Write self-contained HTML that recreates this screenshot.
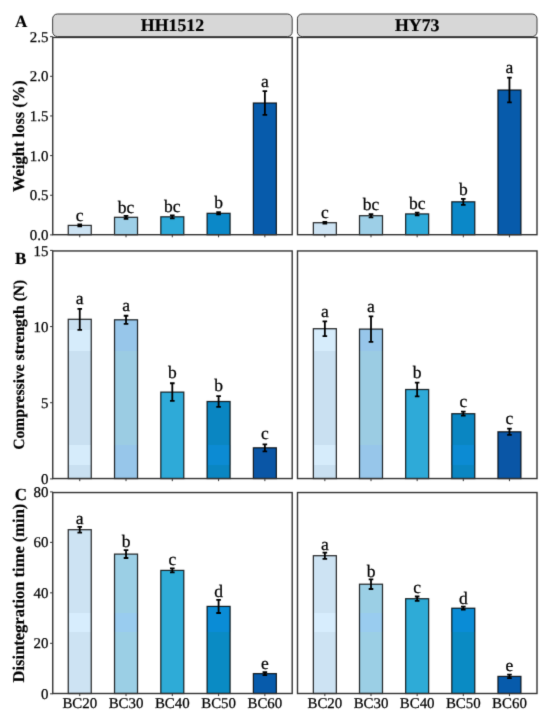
<!DOCTYPE html>
<html><head><meta charset="utf-8"><style>
html,body{margin:0;padding:0;background:#fff;}
body{width:550px;height:718px;overflow:hidden;}
svg{display:block;font-family:"Liberation Serif", serif;text-rendering:geometricPrecision;}
#w{width:550px;height:718px;}
</style></head><body>
<div id="w"><svg width="550" height="718" viewBox="0 0 550 718">
<defs><filter id="bl" x="0" y="0" width="550" height="718" filterUnits="userSpaceOnUse" color-interpolation-filters="sRGB"><feConvolveMatrix order="3" kernelMatrix="0.01134 0.08382 0.01134 0.08382 0.61935 0.08382 0.01134 0.08382 0.01134" edgeMode="duplicate" preserveAlpha="true"/></filter></defs>
<g filter="url(#bl)">
<rect width="550" height="718" fill="#fff"/>
<rect x="68.25" y="225.40" width="23.00" height="9.30" fill="#cde3f3"/>
<rect x="68.25" y="225.40" width="23.00" height="9.30" fill="none" stroke="#000" stroke-opacity="0.82" stroke-width="1.25"/>
<rect x="114.53" y="217.30" width="23.00" height="17.40" fill="#9dcfe7"/>
<rect x="114.53" y="217.30" width="23.00" height="17.40" fill="none" stroke="#000" stroke-opacity="0.82" stroke-width="1.25"/>
<rect x="160.81" y="216.80" width="23.00" height="17.90" fill="#2eaad9"/>
<rect x="160.81" y="216.80" width="23.00" height="17.90" fill="none" stroke="#000" stroke-opacity="0.82" stroke-width="1.25"/>
<rect x="207.09" y="213.30" width="23.00" height="21.40" fill="#0b88c8"/>
<rect x="207.09" y="213.30" width="23.00" height="21.40" fill="none" stroke="#000" stroke-opacity="0.82" stroke-width="1.25"/>
<rect x="253.37" y="103.00" width="23.00" height="131.70" fill="#075bab"/>
<rect x="253.37" y="103.00" width="23.00" height="131.70" fill="none" stroke="#000" stroke-opacity="0.82" stroke-width="1.25"/>
<path d="M79.75 224.50V226.30M77.45 224.50H82.05M77.45 226.30H82.05" stroke="#000" stroke-width="1.8" fill="none"/>
<text transform="translate(79.75 220.70)" font-size="17.5" text-anchor="middle" fill="#000" stroke="#000" stroke-width="0.25">c</text>
<path d="M126.03 215.85V218.75M123.73 215.85H128.33M123.73 218.75H128.33" stroke="#000" stroke-width="1.8" fill="none"/>
<text transform="translate(126.03 212.50)" font-size="17.5" text-anchor="middle" fill="#000" stroke="#000" stroke-width="0.25">bc</text>
<path d="M172.31 215.30V218.30M170.01 215.30H174.61M170.01 218.30H174.61" stroke="#000" stroke-width="1.8" fill="none"/>
<text transform="translate(172.31 211.60)" font-size="17.5" text-anchor="middle" fill="#000" stroke="#000" stroke-width="0.25">bc</text>
<path d="M218.59 212.25V214.35M216.29 212.25H220.89M216.29 214.35H220.89" stroke="#000" stroke-width="1.8" fill="none"/>
<text transform="translate(218.59 208.40)" font-size="17.5" text-anchor="middle" fill="#000" stroke="#000" stroke-width="0.25">b</text>
<path d="M264.87 91.05V114.95M262.57 91.05H267.17M262.57 114.95H267.17" stroke="#000" stroke-width="1.8" fill="none"/>
<text transform="translate(264.87 87.00)" font-size="17.5" text-anchor="middle" fill="#000" stroke="#000" stroke-width="0.25">a</text>
<rect x="52.75" y="37.45" width="239.45" height="197.25" fill="none" stroke="#333" stroke-width="1.4"/>
<line x1="79.75" y1="234.7" x2="79.75" y2="237.29999999999998" stroke="#333" stroke-width="1.0"/>
<line x1="126.03" y1="234.7" x2="126.03" y2="237.29999999999998" stroke="#333" stroke-width="1.0"/>
<line x1="172.31" y1="234.7" x2="172.31" y2="237.29999999999998" stroke="#333" stroke-width="1.0"/>
<line x1="218.59" y1="234.7" x2="218.59" y2="237.29999999999998" stroke="#333" stroke-width="1.0"/>
<line x1="264.87" y1="234.7" x2="264.87" y2="237.29999999999998" stroke="#333" stroke-width="1.0"/>
<rect x="313.35" y="222.70" width="23.00" height="12.00" fill="#cde3f3"/>
<rect x="313.35" y="222.70" width="23.00" height="12.00" fill="none" stroke="#000" stroke-opacity="0.82" stroke-width="1.25"/>
<rect x="359.50" y="215.70" width="23.00" height="19.00" fill="#9dcfe7"/>
<rect x="359.50" y="215.70" width="23.00" height="19.00" fill="none" stroke="#000" stroke-opacity="0.82" stroke-width="1.25"/>
<rect x="405.65" y="213.90" width="23.00" height="20.80" fill="#2eaad9"/>
<rect x="405.65" y="213.90" width="23.00" height="20.80" fill="none" stroke="#000" stroke-opacity="0.82" stroke-width="1.25"/>
<rect x="451.80" y="201.80" width="23.00" height="32.90" fill="#0b88c8"/>
<rect x="451.80" y="201.80" width="23.00" height="32.90" fill="none" stroke="#000" stroke-opacity="0.82" stroke-width="1.25"/>
<rect x="497.95" y="90.00" width="23.00" height="144.70" fill="#075bab"/>
<rect x="497.95" y="90.00" width="23.00" height="144.70" fill="none" stroke="#000" stroke-opacity="0.82" stroke-width="1.25"/>
<path d="M324.85 221.80V223.60M322.55 221.80H327.15M322.55 223.60H327.15" stroke="#000" stroke-width="1.8" fill="none"/>
<text transform="translate(324.85 218.10)" font-size="17.5" text-anchor="middle" fill="#000" stroke="#000" stroke-width="0.25">c</text>
<path d="M371.00 214.10V217.30M368.70 214.10H373.30M368.70 217.30H373.30" stroke="#000" stroke-width="1.8" fill="none"/>
<text transform="translate(371.00 210.20)" font-size="17.5" text-anchor="middle" fill="#000" stroke="#000" stroke-width="0.25">bc</text>
<path d="M417.15 212.55V215.25M414.85 212.55H419.45M414.85 215.25H419.45" stroke="#000" stroke-width="1.8" fill="none"/>
<text transform="translate(417.15 208.90)" font-size="17.5" text-anchor="middle" fill="#000" stroke="#000" stroke-width="0.25">bc</text>
<path d="M463.30 198.80V204.80M461.00 198.80H465.60M461.00 204.80H465.60" stroke="#000" stroke-width="1.8" fill="none"/>
<text transform="translate(463.30 195.30)" font-size="17.5" text-anchor="middle" fill="#000" stroke="#000" stroke-width="0.25">b</text>
<path d="M509.45 77.60V102.40M507.15 77.60H511.75M507.15 102.40H511.75" stroke="#000" stroke-width="1.8" fill="none"/>
<text transform="translate(509.45 73.30)" font-size="17.5" text-anchor="middle" fill="#000" stroke="#000" stroke-width="0.25">a</text>
<rect x="297.5" y="37.45" width="239.50" height="197.25" fill="none" stroke="#333" stroke-width="1.4"/>
<line x1="324.85" y1="234.7" x2="324.85" y2="237.29999999999998" stroke="#333" stroke-width="1.0"/>
<line x1="371.00" y1="234.7" x2="371.00" y2="237.29999999999998" stroke="#333" stroke-width="1.0"/>
<line x1="417.15" y1="234.7" x2="417.15" y2="237.29999999999998" stroke="#333" stroke-width="1.0"/>
<line x1="463.30" y1="234.7" x2="463.30" y2="237.29999999999998" stroke="#333" stroke-width="1.0"/>
<line x1="509.45" y1="234.7" x2="509.45" y2="237.29999999999998" stroke="#333" stroke-width="1.0"/>
<line x1="50.05" y1="234.90" x2="52.75" y2="234.90" stroke="#333" stroke-width="1.0"/>
<text transform="translate(48.35 240.00)" font-size="14.9" text-anchor="end" fill="#000" stroke="#000" stroke-width="0.25">0.0</text>
<line x1="50.05" y1="195.25" x2="52.75" y2="195.25" stroke="#333" stroke-width="1.0"/>
<text transform="translate(48.35 200.35)" font-size="14.9" text-anchor="end" fill="#000" stroke="#000" stroke-width="0.25">0.5</text>
<line x1="50.05" y1="155.60" x2="52.75" y2="155.60" stroke="#333" stroke-width="1.0"/>
<text transform="translate(48.35 160.70)" font-size="14.9" text-anchor="end" fill="#000" stroke="#000" stroke-width="0.25">1.0</text>
<line x1="50.05" y1="115.95" x2="52.75" y2="115.95" stroke="#333" stroke-width="1.0"/>
<text transform="translate(48.35 121.05)" font-size="14.9" text-anchor="end" fill="#000" stroke="#000" stroke-width="0.25">1.5</text>
<line x1="50.05" y1="76.30" x2="52.75" y2="76.30" stroke="#333" stroke-width="1.0"/>
<text transform="translate(48.35 81.40)" font-size="14.9" text-anchor="end" fill="#000" stroke="#000" stroke-width="0.25">2.0</text>
<line x1="50.05" y1="36.65" x2="52.75" y2="36.65" stroke="#333" stroke-width="1.0"/>
<text transform="translate(48.35 41.75)" font-size="14.9" text-anchor="end" fill="#000" stroke="#000" stroke-width="0.25">2.5</text>
<text transform="translate(23.60 136.07) rotate(-90)" font-size="16.5" font-weight="bold" text-anchor="middle" fill="#000" stroke="#000" stroke-width="0.2">Weight loss (%)</text>
<rect x="68.25" y="319.30" width="23.00" height="159.25" fill="#c9e0f1"/>
<rect x="68.25" y="330.00" width="23.00" height="21.00" fill="#d6ecfb"/>
<rect x="68.25" y="445.00" width="23.00" height="20.00" fill="#d6ecfb"/>
<rect x="68.25" y="319.30" width="23.00" height="159.25" fill="none" stroke="#000" stroke-opacity="0.82" stroke-width="1.25"/>
<rect x="114.53" y="319.80" width="23.00" height="158.75" fill="#9bcce3"/>
<rect x="114.53" y="319.80" width="23.00" height="31.20" fill="#97c6ea"/>
<rect x="114.53" y="445.00" width="23.00" height="33.55" fill="#97c6ea"/>
<rect x="114.53" y="319.80" width="23.00" height="158.75" fill="none" stroke="#000" stroke-opacity="0.82" stroke-width="1.25"/>
<rect x="160.81" y="392.10" width="23.00" height="86.45" fill="#2eaad8"/>
<rect x="160.81" y="392.10" width="23.00" height="86.45" fill="none" stroke="#000" stroke-opacity="0.82" stroke-width="1.25"/>
<rect x="207.09" y="401.50" width="23.00" height="77.05" fill="#0a86c2"/>
<rect x="207.09" y="445.00" width="23.00" height="20.00" fill="#0c8bd3"/>
<rect x="207.09" y="401.50" width="23.00" height="77.05" fill="none" stroke="#000" stroke-opacity="0.82" stroke-width="1.25"/>
<rect x="253.37" y="447.80" width="23.00" height="30.75" fill="#0a56a6"/>
<rect x="253.37" y="447.80" width="23.00" height="30.75" fill="none" stroke="#000" stroke-opacity="0.82" stroke-width="1.25"/>
<path d="M79.75 308.80V329.80M77.45 308.80H82.05M77.45 329.80H82.05" stroke="#000" stroke-width="1.8" fill="none"/>
<text transform="translate(79.75 303.60)" font-size="17.5" text-anchor="middle" fill="#000" stroke="#000" stroke-width="0.25">a</text>
<path d="M126.03 315.75V323.85M123.73 315.75H128.33M123.73 323.85H128.33" stroke="#000" stroke-width="1.8" fill="none"/>
<text transform="translate(126.03 310.80)" font-size="17.5" text-anchor="middle" fill="#000" stroke="#000" stroke-width="0.25">a</text>
<path d="M172.31 383.25V400.95M170.01 383.25H174.61M170.01 400.95H174.61" stroke="#000" stroke-width="1.8" fill="none"/>
<text transform="translate(172.31 378.20)" font-size="17.5" text-anchor="middle" fill="#000" stroke="#000" stroke-width="0.25">b</text>
<path d="M218.59 396.05V406.95M216.29 396.05H220.89M216.29 406.95H220.89" stroke="#000" stroke-width="1.8" fill="none"/>
<text transform="translate(218.59 391.40)" font-size="17.5" text-anchor="middle" fill="#000" stroke="#000" stroke-width="0.25">b</text>
<path d="M264.87 444.30V451.30M262.57 444.30H267.17M262.57 451.30H267.17" stroke="#000" stroke-width="1.8" fill="none"/>
<text transform="translate(264.87 439.30)" font-size="17.5" text-anchor="middle" fill="#000" stroke="#000" stroke-width="0.25">c</text>
<rect x="52.75" y="250.95" width="239.45" height="227.60" fill="none" stroke="#333" stroke-width="1.4"/>
<line x1="79.75" y1="478.55" x2="79.75" y2="481.15000000000003" stroke="#333" stroke-width="1.0"/>
<line x1="126.03" y1="478.55" x2="126.03" y2="481.15000000000003" stroke="#333" stroke-width="1.0"/>
<line x1="172.31" y1="478.55" x2="172.31" y2="481.15000000000003" stroke="#333" stroke-width="1.0"/>
<line x1="218.59" y1="478.55" x2="218.59" y2="481.15000000000003" stroke="#333" stroke-width="1.0"/>
<line x1="264.87" y1="478.55" x2="264.87" y2="481.15000000000003" stroke="#333" stroke-width="1.0"/>
<rect x="313.35" y="328.70" width="23.00" height="149.85" fill="#c9e0f1"/>
<rect x="313.35" y="330.00" width="23.00" height="21.00" fill="#d6ecfb"/>
<rect x="313.35" y="445.00" width="23.00" height="20.00" fill="#d6ecfb"/>
<rect x="313.35" y="328.70" width="23.00" height="149.85" fill="none" stroke="#000" stroke-opacity="0.82" stroke-width="1.25"/>
<rect x="359.50" y="329.10" width="23.00" height="149.45" fill="#9bcce3"/>
<rect x="359.50" y="329.10" width="23.00" height="21.90" fill="#97c6ea"/>
<rect x="359.50" y="445.00" width="23.00" height="33.55" fill="#97c6ea"/>
<rect x="359.50" y="329.10" width="23.00" height="149.45" fill="none" stroke="#000" stroke-opacity="0.82" stroke-width="1.25"/>
<rect x="405.65" y="389.50" width="23.00" height="89.05" fill="#2eaad8"/>
<rect x="405.65" y="389.50" width="23.00" height="89.05" fill="none" stroke="#000" stroke-opacity="0.82" stroke-width="1.25"/>
<rect x="451.80" y="413.70" width="23.00" height="64.85" fill="#0a86c2"/>
<rect x="451.80" y="445.00" width="23.00" height="20.00" fill="#0c8bd3"/>
<rect x="451.80" y="413.70" width="23.00" height="64.85" fill="none" stroke="#000" stroke-opacity="0.82" stroke-width="1.25"/>
<rect x="497.95" y="431.80" width="23.00" height="46.75" fill="#0a56a6"/>
<rect x="497.95" y="431.80" width="23.00" height="46.75" fill="none" stroke="#000" stroke-opacity="0.82" stroke-width="1.25"/>
<path d="M324.85 321.30V336.10M322.55 321.30H327.15M322.55 336.10H327.15" stroke="#000" stroke-width="1.8" fill="none"/>
<text transform="translate(324.85 316.60)" font-size="17.5" text-anchor="middle" fill="#000" stroke="#000" stroke-width="0.25">a</text>
<path d="M371.00 316.40V341.80M368.70 316.40H373.30M368.70 341.80H373.30" stroke="#000" stroke-width="1.8" fill="none"/>
<text transform="translate(371.00 311.70)" font-size="17.5" text-anchor="middle" fill="#000" stroke="#000" stroke-width="0.25">a</text>
<path d="M417.15 382.55V396.45M414.85 382.55H419.45M414.85 396.45H419.45" stroke="#000" stroke-width="1.8" fill="none"/>
<text transform="translate(417.15 377.70)" font-size="17.5" text-anchor="middle" fill="#000" stroke="#000" stroke-width="0.25">b</text>
<path d="M463.30 411.70V415.70M461.00 411.70H465.60M461.00 415.70H465.60" stroke="#000" stroke-width="1.8" fill="none"/>
<text transform="translate(463.30 406.70)" font-size="17.5" text-anchor="middle" fill="#000" stroke="#000" stroke-width="0.25">c</text>
<path d="M509.45 428.70V434.90M507.15 428.70H511.75M507.15 434.90H511.75" stroke="#000" stroke-width="1.8" fill="none"/>
<text transform="translate(509.45 423.50)" font-size="17.5" text-anchor="middle" fill="#000" stroke="#000" stroke-width="0.25">c</text>
<rect x="297.5" y="250.95" width="239.50" height="227.60" fill="none" stroke="#333" stroke-width="1.4"/>
<line x1="324.85" y1="478.55" x2="324.85" y2="481.15000000000003" stroke="#333" stroke-width="1.0"/>
<line x1="371.00" y1="478.55" x2="371.00" y2="481.15000000000003" stroke="#333" stroke-width="1.0"/>
<line x1="417.15" y1="478.55" x2="417.15" y2="481.15000000000003" stroke="#333" stroke-width="1.0"/>
<line x1="463.30" y1="478.55" x2="463.30" y2="481.15000000000003" stroke="#333" stroke-width="1.0"/>
<line x1="509.45" y1="478.55" x2="509.45" y2="481.15000000000003" stroke="#333" stroke-width="1.0"/>
<line x1="50.05" y1="478.90" x2="52.75" y2="478.90" stroke="#333" stroke-width="1.0"/>
<text transform="translate(48.35 484.00)" font-size="14.9" text-anchor="end" fill="#000" stroke="#000" stroke-width="0.25">0</text>
<line x1="50.05" y1="402.73" x2="52.75" y2="402.73" stroke="#333" stroke-width="1.0"/>
<text transform="translate(48.35 407.83)" font-size="14.9" text-anchor="end" fill="#000" stroke="#000" stroke-width="0.25">5</text>
<line x1="50.05" y1="326.57" x2="52.75" y2="326.57" stroke="#333" stroke-width="1.0"/>
<text transform="translate(48.35 331.67)" font-size="14.9" text-anchor="end" fill="#000" stroke="#000" stroke-width="0.25">10</text>
<line x1="50.05" y1="250.40" x2="52.75" y2="250.40" stroke="#333" stroke-width="1.0"/>
<text transform="translate(48.35 255.50)" font-size="14.9" text-anchor="end" fill="#000" stroke="#000" stroke-width="0.25">15</text>
<text transform="translate(23.60 364.75) rotate(-90)" font-size="15.6" font-weight="bold" text-anchor="middle" fill="#000" stroke="#000" stroke-width="0.2">Compressive strength (N)</text>
<rect x="68.25" y="529.70" width="23.00" height="163.80" fill="#cde3f3"/>
<rect x="68.25" y="613.00" width="23.00" height="19.00" fill="#d7edfd"/>
<rect x="68.25" y="529.70" width="23.00" height="163.80" fill="none" stroke="#000" stroke-opacity="0.82" stroke-width="1.25"/>
<rect x="114.53" y="554.10" width="23.00" height="139.40" fill="#9bcfe5"/>
<rect x="114.53" y="613.00" width="23.00" height="19.00" fill="#99ccef"/>
<rect x="114.53" y="554.10" width="23.00" height="139.40" fill="none" stroke="#000" stroke-opacity="0.82" stroke-width="1.25"/>
<rect x="160.81" y="570.40" width="23.00" height="123.10" fill="#2eabd7"/>
<rect x="160.81" y="570.40" width="23.00" height="123.10" fill="none" stroke="#000" stroke-opacity="0.82" stroke-width="1.25"/>
<rect x="207.09" y="606.40" width="23.00" height="87.10" fill="#0a8bc4"/>
<rect x="207.09" y="606.40" width="23.00" height="25.60" fill="#0a8cd6"/>
<rect x="207.09" y="606.40" width="23.00" height="87.10" fill="none" stroke="#000" stroke-opacity="0.82" stroke-width="1.25"/>
<rect x="253.37" y="673.60" width="23.00" height="19.90" fill="#075bab"/>
<rect x="253.37" y="673.60" width="23.00" height="19.90" fill="none" stroke="#000" stroke-opacity="0.82" stroke-width="1.25"/>
<path d="M79.75 526.80V532.60M77.45 526.80H82.05M77.45 532.60H82.05" stroke="#000" stroke-width="1.8" fill="none"/>
<text transform="translate(79.75 523.70)" font-size="17.5" text-anchor="middle" fill="#000" stroke="#000" stroke-width="0.25">a</text>
<path d="M126.03 550.20V558.00M123.73 550.20H128.33M123.73 558.00H128.33" stroke="#000" stroke-width="1.8" fill="none"/>
<text transform="translate(126.03 547.10)" font-size="17.5" text-anchor="middle" fill="#000" stroke="#000" stroke-width="0.25">b</text>
<path d="M172.31 568.40V572.40M170.01 568.40H174.61M170.01 572.40H174.61" stroke="#000" stroke-width="1.8" fill="none"/>
<text transform="translate(172.31 564.90)" font-size="17.5" text-anchor="middle" fill="#000" stroke="#000" stroke-width="0.25">c</text>
<path d="M218.59 599.80V613.00M216.29 599.80H220.89M216.29 613.00H220.89" stroke="#000" stroke-width="1.8" fill="none"/>
<text transform="translate(218.59 596.70)" font-size="17.5" text-anchor="middle" fill="#000" stroke="#000" stroke-width="0.25">d</text>
<path d="M264.87 672.05V675.15M262.57 672.05H267.17M262.57 675.15H267.17" stroke="#000" stroke-width="1.8" fill="none"/>
<text transform="translate(264.87 669.10)" font-size="17.5" text-anchor="middle" fill="#000" stroke="#000" stroke-width="0.25">e</text>
<rect x="52.75" y="492.55" width="239.45" height="200.95" fill="none" stroke="#333" stroke-width="1.4"/>
<line x1="79.75" y1="693.5" x2="79.75" y2="696.1" stroke="#333" stroke-width="1.0"/>
<line x1="126.03" y1="693.5" x2="126.03" y2="696.1" stroke="#333" stroke-width="1.0"/>
<line x1="172.31" y1="693.5" x2="172.31" y2="696.1" stroke="#333" stroke-width="1.0"/>
<line x1="218.59" y1="693.5" x2="218.59" y2="696.1" stroke="#333" stroke-width="1.0"/>
<line x1="264.87" y1="693.5" x2="264.87" y2="696.1" stroke="#333" stroke-width="1.0"/>
<text transform="translate(79.75 708.10)" font-size="14.9" text-anchor="middle" fill="#000" stroke="#000" stroke-width="0.25">BC20</text>
<text transform="translate(126.03 708.10)" font-size="14.9" text-anchor="middle" fill="#000" stroke="#000" stroke-width="0.25">BC30</text>
<text transform="translate(172.31 708.10)" font-size="14.9" text-anchor="middle" fill="#000" stroke="#000" stroke-width="0.25">BC40</text>
<text transform="translate(218.59 708.10)" font-size="14.9" text-anchor="middle" fill="#000" stroke="#000" stroke-width="0.25">BC50</text>
<text transform="translate(264.87 708.10)" font-size="14.9" text-anchor="middle" fill="#000" stroke="#000" stroke-width="0.25">BC60</text>
<rect x="313.35" y="555.70" width="23.00" height="137.80" fill="#cde3f3"/>
<rect x="313.35" y="613.00" width="23.00" height="19.00" fill="#d7edfd"/>
<rect x="313.35" y="555.70" width="23.00" height="137.80" fill="none" stroke="#000" stroke-opacity="0.82" stroke-width="1.25"/>
<rect x="359.50" y="584.20" width="23.00" height="109.30" fill="#9bcfe5"/>
<rect x="359.50" y="613.00" width="23.00" height="19.00" fill="#99ccef"/>
<rect x="359.50" y="584.20" width="23.00" height="109.30" fill="none" stroke="#000" stroke-opacity="0.82" stroke-width="1.25"/>
<rect x="405.65" y="598.70" width="23.00" height="94.80" fill="#2eabd7"/>
<rect x="405.65" y="598.70" width="23.00" height="94.80" fill="none" stroke="#000" stroke-opacity="0.82" stroke-width="1.25"/>
<rect x="451.80" y="608.20" width="23.00" height="85.30" fill="#0a8bc4"/>
<rect x="451.80" y="608.20" width="23.00" height="23.80" fill="#0a8cd6"/>
<rect x="451.80" y="608.20" width="23.00" height="85.30" fill="none" stroke="#000" stroke-opacity="0.82" stroke-width="1.25"/>
<rect x="497.95" y="676.40" width="23.00" height="17.10" fill="#075bab"/>
<rect x="497.95" y="676.40" width="23.00" height="17.10" fill="none" stroke="#000" stroke-opacity="0.82" stroke-width="1.25"/>
<path d="M324.85 552.55V558.85M322.55 552.55H327.15M322.55 558.85H327.15" stroke="#000" stroke-width="1.8" fill="none"/>
<text transform="translate(324.85 549.50)" font-size="17.5" text-anchor="middle" fill="#000" stroke="#000" stroke-width="0.25">a</text>
<path d="M371.00 579.40V589.00M368.70 579.40H373.30M368.70 589.00H373.30" stroke="#000" stroke-width="1.8" fill="none"/>
<text transform="translate(371.00 576.70)" font-size="17.5" text-anchor="middle" fill="#000" stroke="#000" stroke-width="0.25">b</text>
<path d="M417.15 596.50V600.90M414.85 596.50H419.45M414.85 600.90H419.45" stroke="#000" stroke-width="1.8" fill="none"/>
<text transform="translate(417.15 593.30)" font-size="17.5" text-anchor="middle" fill="#000" stroke="#000" stroke-width="0.25">c</text>
<path d="M463.30 606.70V609.70M461.00 606.70H465.60M461.00 609.70H465.60" stroke="#000" stroke-width="1.8" fill="none"/>
<text transform="translate(463.30 603.50)" font-size="17.5" text-anchor="middle" fill="#000" stroke="#000" stroke-width="0.25">d</text>
<path d="M509.45 674.70V678.10M507.15 674.70H511.75M507.15 678.10H511.75" stroke="#000" stroke-width="1.8" fill="none"/>
<text transform="translate(509.45 671.30)" font-size="17.5" text-anchor="middle" fill="#000" stroke="#000" stroke-width="0.25">e</text>
<rect x="297.5" y="492.55" width="239.50" height="200.95" fill="none" stroke="#333" stroke-width="1.4"/>
<line x1="324.85" y1="693.5" x2="324.85" y2="696.1" stroke="#333" stroke-width="1.0"/>
<line x1="371.00" y1="693.5" x2="371.00" y2="696.1" stroke="#333" stroke-width="1.0"/>
<line x1="417.15" y1="693.5" x2="417.15" y2="696.1" stroke="#333" stroke-width="1.0"/>
<line x1="463.30" y1="693.5" x2="463.30" y2="696.1" stroke="#333" stroke-width="1.0"/>
<line x1="509.45" y1="693.5" x2="509.45" y2="696.1" stroke="#333" stroke-width="1.0"/>
<text transform="translate(324.85 708.10)" font-size="14.9" text-anchor="middle" fill="#000" stroke="#000" stroke-width="0.25">BC20</text>
<text transform="translate(371.00 708.10)" font-size="14.9" text-anchor="middle" fill="#000" stroke="#000" stroke-width="0.25">BC30</text>
<text transform="translate(417.15 708.10)" font-size="14.9" text-anchor="middle" fill="#000" stroke="#000" stroke-width="0.25">BC40</text>
<text transform="translate(463.30 708.10)" font-size="14.9" text-anchor="middle" fill="#000" stroke="#000" stroke-width="0.25">BC50</text>
<text transform="translate(509.45 708.10)" font-size="14.9" text-anchor="middle" fill="#000" stroke="#000" stroke-width="0.25">BC60</text>
<line x1="50.05" y1="693.80" x2="52.75" y2="693.80" stroke="#333" stroke-width="1.0"/>
<text transform="translate(48.35 698.90)" font-size="14.9" text-anchor="end" fill="#000" stroke="#000" stroke-width="0.25">0</text>
<line x1="50.05" y1="643.32" x2="52.75" y2="643.32" stroke="#333" stroke-width="1.0"/>
<text transform="translate(48.35 648.42)" font-size="14.9" text-anchor="end" fill="#000" stroke="#000" stroke-width="0.25">20</text>
<line x1="50.05" y1="592.85" x2="52.75" y2="592.85" stroke="#333" stroke-width="1.0"/>
<text transform="translate(48.35 597.95)" font-size="14.9" text-anchor="end" fill="#000" stroke="#000" stroke-width="0.25">40</text>
<line x1="50.05" y1="542.38" x2="52.75" y2="542.38" stroke="#333" stroke-width="1.0"/>
<text transform="translate(48.35 547.48)" font-size="14.9" text-anchor="end" fill="#000" stroke="#000" stroke-width="0.25">60</text>
<line x1="50.05" y1="491.90" x2="52.75" y2="491.90" stroke="#333" stroke-width="1.0"/>
<text transform="translate(48.35 497.00)" font-size="14.9" text-anchor="end" fill="#000" stroke="#000" stroke-width="0.25">80</text>
<text transform="translate(23.60 593.02) rotate(-90)" font-size="16.5" font-weight="bold" text-anchor="middle" fill="#000" stroke="#000" stroke-width="0.2">Disintegration time (min)</text>
<text transform="translate(15.00 26.60)" font-size="17" font-weight="bold" fill="#000" stroke="#000" stroke-width="0.2">A</text>
<text transform="translate(14.90 263.60)" font-size="17" font-weight="bold" fill="#000" stroke="#000" stroke-width="0.2">B</text>
<text transform="translate(14.70 500.40)" font-size="17" font-weight="bold" fill="#000" stroke="#000" stroke-width="0.2">C</text>
<rect x="52.65" y="14.0" width="239.55" height="22.60" rx="4.8" ry="4.8" fill="#d7d7d7" stroke="#333" stroke-width="0.95"/>
<text transform="translate(172.47 31.40)" font-size="17.8" font-weight="bold" text-anchor="middle" fill="#000" stroke="#000" stroke-width="0.2">HH1512</text>
<rect x="297.40" y="14.0" width="239.60" height="22.60" rx="4.8" ry="4.8" fill="#d7d7d7" stroke="#333" stroke-width="0.95"/>
<text transform="translate(417.25 31.40)" font-size="17.8" font-weight="bold" text-anchor="middle" fill="#000" stroke="#000" stroke-width="0.2">HY73</text>
</g></svg></div>
</body></html>
